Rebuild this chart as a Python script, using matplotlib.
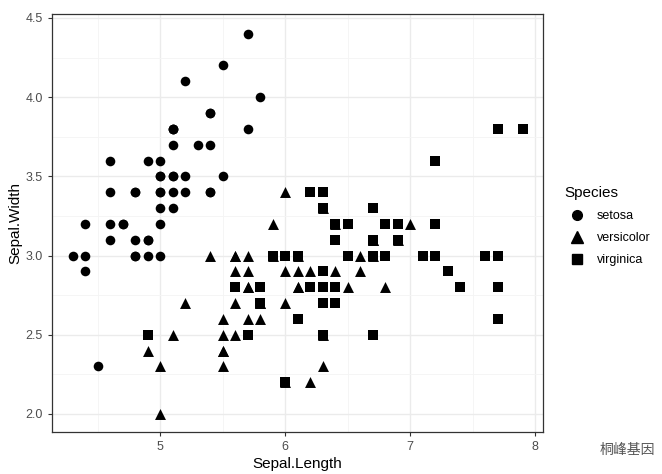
import matplotlib
matplotlib.use("Agg")
import matplotlib.pyplot as plt
from matplotlib.lines import Line2D

plt.rcParams['font.family'] = ['Liberation Sans', 'Noto Sans CJK SC', 'DejaVu Sans']

setosa_len = [5.1,4.9,4.7,4.6,5.0,5.4,4.6,5.0,4.4,4.9,5.4,4.8,4.8,4.3,5.8,5.7,5.4,5.1,5.7,5.1,5.4,5.1,4.6,5.1,4.8,5.0,5.0,5.2,5.2,4.7,4.8,5.4,5.2,5.5,4.9,5.0,5.5,4.9,4.4,5.1,5.0,4.5,4.4,5.0,5.1,4.8,5.1,4.6,5.3,5.0]
setosa_wid = [3.5,3.0,3.2,3.1,3.6,3.9,3.4,3.4,2.9,3.1,3.7,3.4,3.0,3.0,4.0,4.4,3.9,3.5,3.8,3.8,3.4,3.7,3.6,3.3,3.4,3.0,3.4,3.5,3.4,3.2,3.1,3.4,4.1,4.2,3.1,3.2,3.5,3.6,3.0,3.4,3.5,2.3,3.2,3.5,3.8,3.0,3.8,3.2,3.7,3.3]
versicolor_len = [7.0,6.4,6.9,5.5,6.5,5.7,6.3,4.9,6.6,5.2,5.0,5.9,6.0,6.1,5.6,6.7,5.6,5.8,6.2,5.6,5.9,6.1,6.3,6.1,6.4,6.6,6.8,6.7,6.0,5.7,5.5,5.5,5.8,6.0,5.4,6.0,6.7,6.3,5.6,5.5,5.5,6.1,5.8,5.0,5.6,5.7,5.7,6.2,5.1,5.7]
versicolor_wid = [3.2,3.2,3.1,2.3,2.8,2.8,3.3,2.4,2.9,2.7,2.0,3.0,2.2,2.9,2.9,3.1,3.0,2.7,2.2,2.5,3.2,2.8,2.5,2.8,2.9,3.0,2.8,3.0,2.9,2.6,2.4,2.4,2.7,2.7,3.0,3.4,3.1,2.3,3.0,2.5,2.6,3.0,2.6,2.3,2.7,3.0,2.9,2.9,2.5,2.8]
virginica_len = [6.3,5.8,7.1,6.3,6.5,7.6,4.9,7.3,6.7,7.2,6.5,6.4,6.8,5.7,5.8,6.4,6.5,7.7,7.7,6.0,6.9,5.6,7.7,6.3,6.7,7.2,6.2,6.1,6.4,7.2,7.4,7.9,6.4,6.3,6.1,7.7,6.3,6.4,6.0,6.9,6.7,6.9,5.8,6.8,6.7,6.7,6.3,6.5,6.2,5.9]
virginica_wid = [3.3,2.7,3.0,2.9,3.0,3.0,2.5,2.9,2.5,3.6,3.2,2.7,3.0,2.5,2.8,3.2,3.0,3.8,2.6,2.2,3.2,2.8,2.8,2.7,3.3,3.2,2.8,3.0,2.8,3.0,2.8,3.8,2.8,2.8,2.6,3.0,3.4,3.1,3.0,3.1,3.1,3.1,2.7,3.2,3.3,3.0,2.5,3.0,3.4,3.0]

species = ['setosa', 'versicolor', 'virginica']
markers = ['o', '^', 's']
sizes = [48, 62, 52]
xs = [setosa_len, versicolor_len, virginica_len]
ys = [setosa_wid, versicolor_wid, virginica_wid]

fig = plt.figure(figsize=(6.62, 4.74), dpi=100)
ax = fig.add_axes([52/662, 1-432/474, 491/662, 418/474])
for x, y, m, s in zip(xs, ys, markers, sizes):
    ax.scatter(x, y, marker=m, s=s, c='black', linewidths=0, zorder=3)

ax.set_xlim(4.136, 8.064)
ax.set_ylim(1.886, 4.525)
ax.set_xticks([5, 6, 7, 8])
ax.set_yticks([2.0, 2.5, 3.0, 3.5, 4.0, 4.5])
ax.set_yticklabels(['2.0', '2.5', '3.0', '3.5', '4.0', '4.5'])
ax.set_xticks([4.5, 5.5, 6.5, 7.5], minor=True)
ax.set_yticks([2.25, 2.75, 3.25, 3.75, 4.25], minor=True)
ax.grid(True, which='major', color='#EBEBEB', linewidth=1.0, zorder=0)
ax.grid(True, which='minor', color='#F4F4F4', linewidth=0.6, zorder=0)
ax.set_axisbelow(True)
for s in ax.spines.values():
    s.set_color('#333333'); s.set_linewidth(0.9)
ax.tick_params(which='major', length=3, color='#333333', labelcolor='#4D4D4D', labelsize=9)
ax.tick_params(which='minor', length=0)
ax.set_xlabel('Sepal.Length', fontsize=11, labelpad=3)
ax.set_ylabel('Sepal.Width', fontsize=11, labelpad=2)

handles = [Line2D([], [], marker=m, color='black', linestyle='', markersize=ms) for m, ms in zip(markers, [7, 8, 7.5])]
leg = fig.legend(handles, species, title='Species', loc='upper left', bbox_to_anchor=(553/662, 1-175/474),
                 frameon=False, fontsize=9, title_fontsize=11, handletextpad=0.6, labelspacing=0.8)
leg._legend_box.align = 'left'

fig.text(0.99, 0.035, '桐峰基因', ha='right', va='bottom', fontsize=10, color='#555555',
         family=['Noto Sans CJK SC', 'DejaVu Sans'])
fig.savefig('out.png', dpi=100)
